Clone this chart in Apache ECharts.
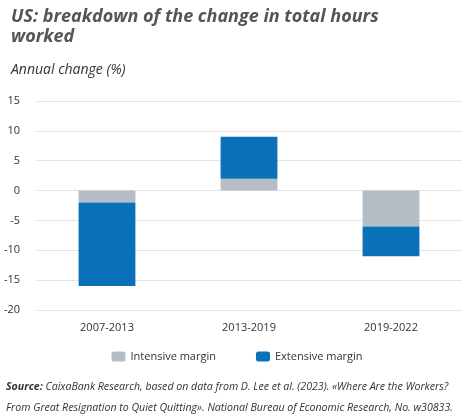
<!DOCTYPE html>
<html><head><meta charset="utf-8">
<script src="https://cdn.jsdelivr.net/npm/echarts@6/dist/echarts.min.js"></script>
<style>html,body{margin:0;padding:0;background:#fff}#c{width:474px;height:419px}</style>
</head><body><div id="c"></div>
<script>
// periods on the x axis
const categories = ['2007-2013', '2013-2019', '2019-2022'];
// contributions to annual change (%)
const intensive = [-2, 2, -6];
const extensive = [-14, 7, -5];
const yTicks = { min: -20, max: 15, interval: 5 };

const chart = echarts.init(document.getElementById('c'));
const font = 'Open Sans, Noto Sans, sans-serif';
chart.setOption({
    animation: false,
    textStyle: { fontFamily: font },
    title: [{
        text: 'US: breakdown of the change in total hours\nworked',
        left: 6, top: 2,
        textStyle: { fontSize: 18, fontWeight: 'bold', fontStyle: 'italic', color: '#555', lineHeight: 20, fontFamily: font }
    }, {
        text: 'Annual change (%)',
        left: 6, top: 58,
        textStyle: { fontSize: 14, fontWeight: 'normal', fontStyle: 'italic', color: '#333', fontFamily: font }
    }],
    grid: { left: 36, right: 12, top: 101, bottom: 109 },
    xAxis: {
        type: 'category', data: categories,
        axisTick: { show: false },
        axisLine: { show: false },
        axisLabel: { color: '#333', fontSize: 11, margin: 12 }
    },
    yAxis: {
        type: 'value', min: yTicks.min, max: yTicks.max, interval: yTicks.interval,
        axisLabel: { color: '#333', fontSize: 11, margin: 16 },
        splitLine: { lineStyle: { color: '#e4e4e4' } },
        axisLine: { show: false }
    },
    legend: {
        bottom: 52, left: 'center', itemWidth: 14, itemHeight: 10, itemGap: 40,
        textStyle: { color: '#333', fontSize: 11 },
        data: ['Intensive margin', 'Extensive margin']
    },
    series: [
        { name: 'Intensive margin', type: 'bar', stack: 'a', data: intensive, barWidth: '40%',
          itemStyle: { color: '#b5bec5' } },
        { name: 'Extensive margin', type: 'bar', stack: 'a', data: extensive,
          itemStyle: { color: '#0a70b8' } }
    ],
    graphic: [{
        type: 'text', left: 6, top: 376,
        style: {
            text: '{b|Source:} CaixaBank Research, based on data from D. Lee et al. (2023). «Where Are the Workers?\nFrom Great Resignation to Quiet Quitting». National Bureau of Economic Research, No. w30833.',
            font: 'italic 10.6px ' + font, fill: '#333', lineHeight: 21,
            rich: { b: { fontWeight: 'bold', fontStyle: 'italic', fontSize: 10.6, fontFamily: font, fill: '#333' } }
        }
    }]
});
</script></body></html>
